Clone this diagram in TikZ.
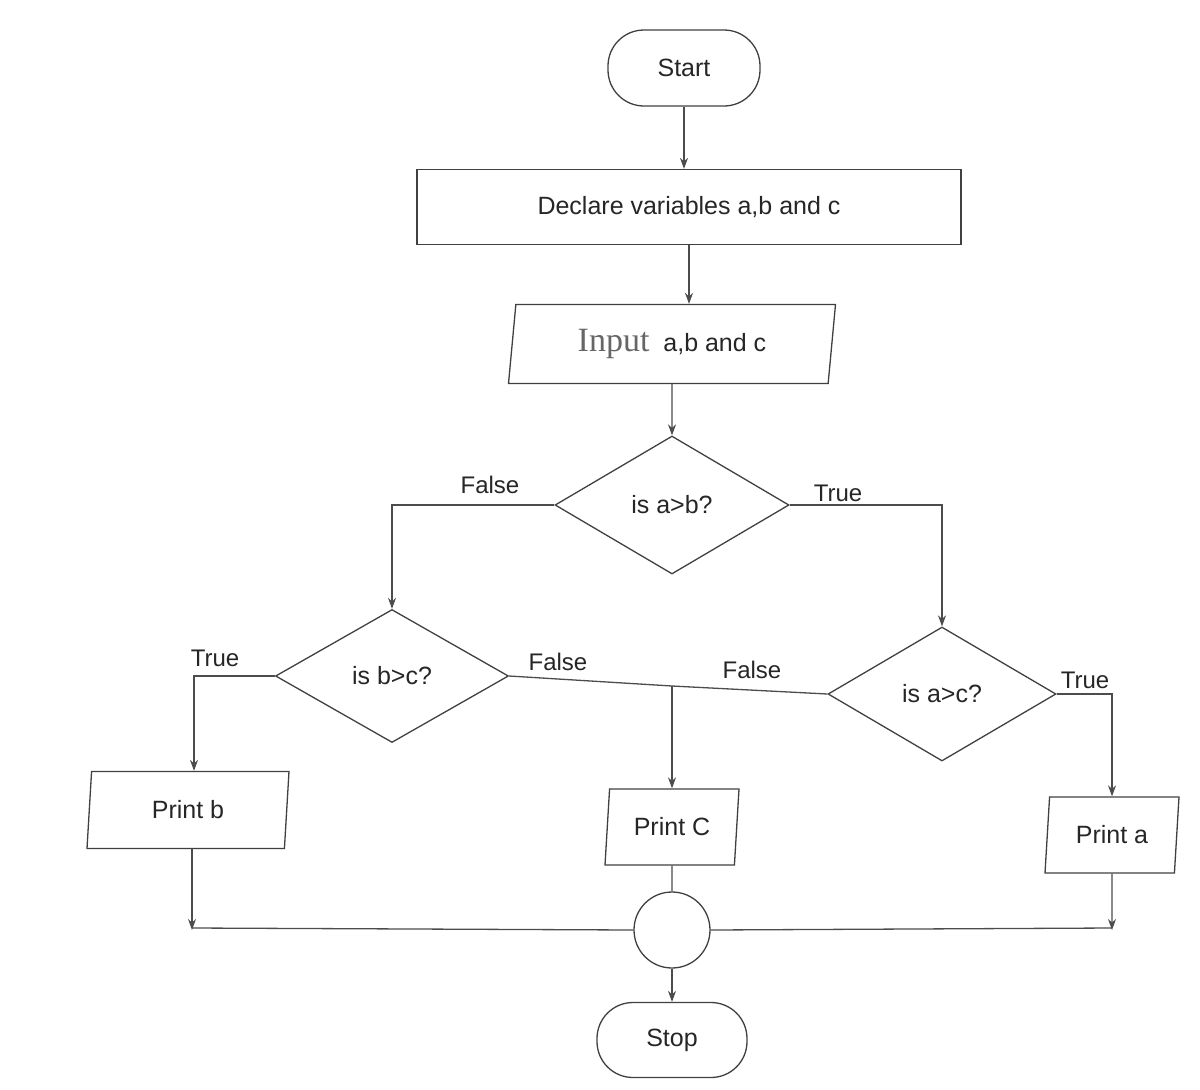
\documentclass[tikz,border=0pt]{standalone}
\usepackage{fontspec}
\setmainfont{Liberation Sans}
\newfontfamily\serifin{Liberation Serif}
\usetikzlibrary{shapes.geometric,arrows.meta}
\begin{document}
\begin{tikzpicture}[x=1pt,y=-1pt,
  every node/.style={font=\fontsize{25}{30}\selectfont, text=black!85},
  box/.style={draw=black!75, line width=1.3pt, inner sep=0pt},
  term/.style={box, rounded corners=36pt},
  par/.style={box, trapezium, trapezium left angle=76, trapezium right angle=104, trapezium stretches body=true},
  dia/.style={box, diamond, aspect=1.7},
  ln/.style={draw=black!70, line width=1.3pt},
  ar/.style={ln, -{Stealth[length=11pt,width=8pt]}},
  lab/.style={font=\fontsize{24}{28}\selectfont}]
\useasboundingbox (0,0) rectangle (1200,1090);
\node[term, minimum width=152pt, minimum height=76pt] (start) at (684,68) {Start};
\node[box, minimum width=544pt, minimum height=75pt] (decl) at (689,207) {Declare variables a,b and c};
\node[par, minimum width=327pt, minimum height=79pt] (inp) at (672,344) {{\serifin\fontsize{34}{36}\selectfont\color{black!60}Input}\ \ a,b and c};
\node[dia, minimum width=234pt, minimum height=138pt] (d1) at (672,505) {is a>b?};
\node[dia, minimum width=233pt, minimum height=133pt] (d2) at (392,676) {is b>c?};
\node[dia, minimum width=228pt, minimum height=134pt] (d3) at (942,694) {is a>c?};
\node[par, minimum width=202pt, minimum height=77pt] (pb) at (188,810) {Print b};
\node[par, minimum width=134pt, minimum height=76pt] (pc) at (672,827) {Print C};
\node[par, minimum width=134pt, minimum height=76pt] (pa) at (1112,835) {Print a};
\node[box, circle, minimum size=76pt] (j) at (672,930) {};
\node[term, minimum width=150pt, minimum height=75pt] (stop) at (672,1040) {Stop};
\coordinate (m) at (672,686);
\draw[ar] (start) -- (decl.north -| start);
\draw[ar] (decl) -- (inp.north -| decl);
\draw[ar] (inp) -- (d1);
\draw[ar] (d1.west) -| (d2.north);
\draw[ar] (d1.east) -| (d3.north);
\draw[ar] (d2.west) -| (pb.north -| 194,0);
\draw[ln] (d2.east) -- (m) -- (d3.west);
\draw[ar] (m) -- (pc);
\draw[ar] (d3.east) -| (pa.north);
\draw[ar] (pb.south -| 192,0) -- (192,930);
\draw[ar] (pa.south) -- (1112,930);
\draw[ln] (192,928) -- (j.west);
\draw[ln] (1112,928) -- (j.east);
\draw[ln] (pc) -- (j);
\draw[ar] (j) -- (stop);
\node[lab] (l1) at (490,485) {False};
\node[lab] (l2) at (838,493) {True};
\node[lab] (l3) at (215,658) {True};
\node[lab] (l4) at (558,662) {False};
\node[lab] (l5) at (752,670) {False};
\node[lab] (l6) at (1085,680) {True};
\end{tikzpicture}
\end{document}
